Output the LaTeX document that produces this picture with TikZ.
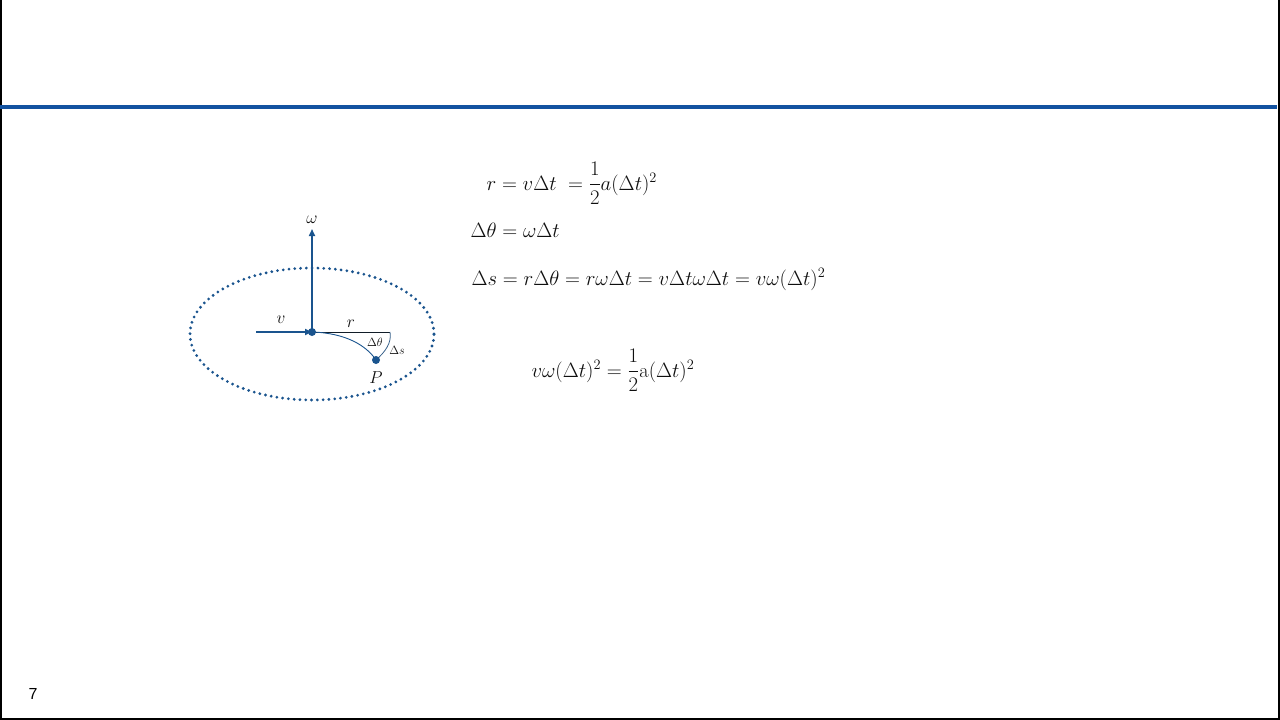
\documentclass[tikz,border=0pt]{standalone}
\usepackage{amsmath}
\usepackage{fontspec}
\newfontfamily\slidefont{Liberation Sans}
\usetikzlibrary{arrows.meta}
\definecolor{slideblue}{RGB}{18,82,160}
\definecolor{dotblue}{RGB}{26,84,142}
\definecolor{inkgray}{RGB}{15,15,15}
\tikzset{
  vecarrow/.style={line width=1.6pt,dotblue,-{Triangle[length=7pt,width=6pt]}},
  formula/.style={anchor=base west,inkgray,font=\fontsize{20.4}{24}\selectfont},
  smalllabel/.style={inkgray,font=\fontsize{17}{19}\selectfont},
  tinylabel/.style={inkgray,font=\fontsize{12.5}{14}\selectfont}
}
\begin{document}
\begin{tikzpicture}[x=1pt,y=-1pt]
        \useasboundingbox (0,0) rectangle (1280,720);
        % frame and title rule
        \draw[black,line width=2pt] (0.75,0) -- (0.75,718.5) -- (1278.5,718.5) -- (1278.5,0);
        \draw[slideblue,line width=4pt] (0,107) -- (1277,107);
        \node[font=\slidefont\fontsize{16}{18}\selectfont] (pagenum) at (33,694) {7};
        % sketch
        \coordinate (O) at (312,332);
        \coordinate (Wtip) at (312,229);
        \coordinate (Vtail) at (256,332);
        \coordinate (R) at (390,332);
        \coordinate (P) at (376,360);
        \draw[dotblue,line width=3.1pt,line cap=round,dash pattern=on 0pt off 5.8pt] (312,334) ellipse [x radius=122pt,y radius=66pt];
        \draw[vecarrow] (O) -- (Wtip) node[smalllabel,above,yshift=1pt]{$\omega$};
        \draw[vecarrow] (Vtail) -- (O);
        \node[smalllabel] (vlab) at (281,320) {$v$};
        \draw[inkgray!80!dotblue,line width=0.8pt] (O) -- (R) node[smalllabel,midway,above,yshift=1pt]{$r$};
        \draw[dotblue,line width=0.9pt] (O) .. controls (345,333) and (366,345) .. (P);
        \draw[dotblue!70!gray,line width=0.8pt] (R) .. controls (392,343) and (385,352) .. (P);
        \node[tinylabel] (dtheta) at (375,342) {$\Delta\theta$};
        \node[tinylabel] (dslab) at (397,350) {$\Delta s$};
        \fill[dotblue] (O) circle (4pt);
        \fill[dotblue] (P) circle (4pt);
        \node[smalllabel] (plab) at (376,378) {$P$};
        % equations
        \node[formula] (eqr) at (483,190) {$r = v\Delta t\; = \dfrac{1}{2}a(\Delta t)^2$};
        \node[formula] (eqtheta) at (467,237) {$\Delta\theta = \omega\Delta t$};
        \node[formula] (eqs) at (468,285) {$\Delta s = r\Delta\theta = r\omega\Delta t = v\Delta t\omega\Delta t = v\omega(\Delta t)^2$};
        \node[formula] (eqa) at (528,377) {$v\omega(\Delta t)^2 = \dfrac{1}{2}\mathrm{a}(\Delta t)^2$};
\end{tikzpicture}
\end{document}
